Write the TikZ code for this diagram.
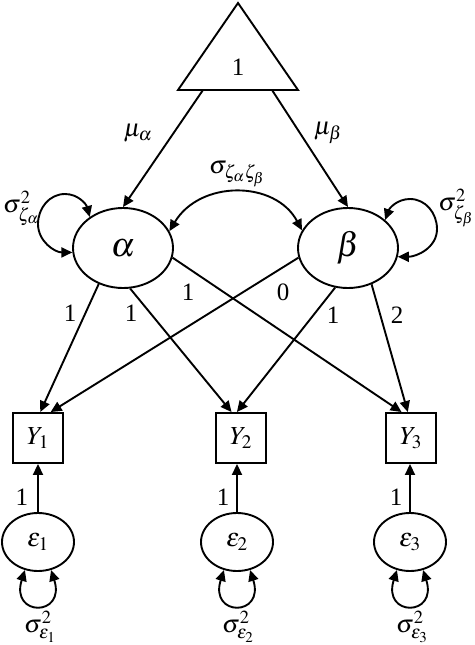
\documentclass[tikz,border=0pt]{standalone}
\usepackage{mathptmx}
\usepackage{fontspec}
\setmainfont{Liberation Serif}
\usetikzlibrary{arrows.meta,shapes.geometric}
\begin{document}
\begin{tikzpicture}[x=1pt,y=1pt,line width=1.9pt,
  >={Triangle[length=11pt,width=10pt]},
  lat/.style={draw,ellipse,minimum width=100pt,minimum height=80pt,inner sep=0pt,font=\fontsize{34}{38}\selectfont},
  err/.style={draw,ellipse,minimum width=72pt,minimum height=58pt,inner sep=0pt,font=\fontsize{26}{30}\selectfont},
  obs/.style={draw,rectangle,minimum width=50pt,minimum height=50pt,inner sep=0pt,font=\fontsize{26}{30}\selectfont},
  lbl/.style={font=\fontsize{25}{28}\selectfont,inner sep=1pt},
  slbl/.style={font=\fontsize{25}{28}\selectfont,inner sep=1pt}]
\useasboundingbox (0,0) rectangle (474,-645);

% constant triangle
\draw[line join=miter] (238,-3) -- (298,-90) -- (178,-90) -- cycle;
\node[lbl] (one) at (238,-67) {1};
\coordinate (ta) at (203,-90);
\coordinate (tb) at (272,-90);

% latent factors
\node[lat] (alpha) at (123,-248) {$\alpha$};
\node[lat] (beta) at (348,-248) {$\beta$};

% observed
\node[obs] (Y1) at (38,-438) {$Y_1$};
\node[obs] (Y2) at (241,-438) {$Y_2$};
\node[obs] (Y3) at (411,-438) {$Y_3$};

% errors
\node[err] (e1) at (38,-542) {$\varepsilon_1$};
\node[err] (e2) at (237,-542) {$\varepsilon_2$};
\node[err] (e3) at (410,-542) {$\varepsilon_3$};

% means
\draw[->] (ta) -- (alpha.north);
\draw[->] (tb) -- (beta.north);
\node[lbl] (mua) at (138,-133) {$\mu_\alpha$};
\node[lbl] (mub) at (328,-133) {$\mu_\beta$};

% covariance
\draw[<->] (alpha.20) .. controls (200,-180) and (275,-180) .. (beta.159);
\node[slbl] (cov) at (237,-174) {$\sigma_{\zeta_\alpha\zeta_\beta}$};

% variances of factors
\draw[<->] (alpha.137) to[out=105,in=0] (65,-194) to[out=180,in=90] (38,-224) to[out=-90,in=180] (alpha.185);
\node[slbl] (va) at (21,-208) {$\sigma^2_{\zeta_\alpha}$};
\draw[<->] (beta.37) to[out=70,in=180] (410,-199) to[out=0,in=90] (437,-229) to[out=-90,in=0] (beta.350);
\node[slbl] (vb) at (456,-208) {$\sigma^2_{\zeta_\beta}$};

% loadings
\draw[->] (alpha.236) -- (Y1.85);
\draw[->] (alpha.280) -- (Y2.110);
\draw[->] (alpha.349) -- (Y3.110);
\draw[->] (beta.191) -- (Y1.64);
\draw[->] (beta.252) -- (Y2.99);
\draw[->] (beta.303) -- (Y3.97);
\node[lbl] (l1) at (70,-313) {1};
\node[lbl] (l2) at (131,-313) {1};
\node[lbl] (l3) at (188,-292) {1};
\node[lbl] (l4) at (283,-292) {0};
\node[lbl] (l5) at (333,-315) {1};
\node[lbl] (l6) at (397,-315) {2};

% errors to observed
\draw[->] (e1.north) -- (Y1.south);
\draw[->] (e2.north) -- (Y2.south -| e2.north);
\draw[->] (e3.north) -- (Y3.south -| e3.north);
\node[lbl] (k1) at (22,-497) {1};
\node[lbl] (k2) at (223,-497) {1};
\node[lbl] (k3) at (396,-497) {1};

% error variances
\draw[<->] (e1.245) .. controls (10,-617) and (66,-617) .. (e1.295);
\draw[<->] (e2.245) .. controls (209,-617) and (265,-617) .. (e2.295);
\draw[<->] (e3.245) .. controls (382,-617) and (438,-617) .. (e3.295);
\node[slbl] (s1) at (40,-627) {$\sigma^2_{\varepsilon_1}$};
\node[slbl] (s2) at (238,-627) {$\sigma^2_{\varepsilon_2}$};
\node[slbl] (s3) at (412,-627) {$\sigma^2_{\varepsilon_3}$};
\end{tikzpicture}
\end{document}
